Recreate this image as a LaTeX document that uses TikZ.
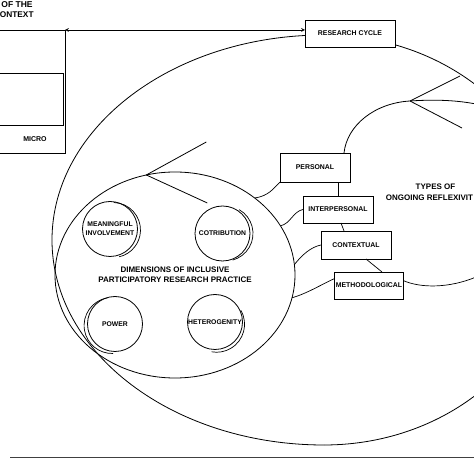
\documentclass[tikz,border=0pt]{standalone}
\usepackage{fontspec}
\setmainfont{Liberation Sans}
\usetikzlibrary{positioning,shapes.geometric}

\begin{document}
\begin{tikzpicture}[x=1pt,y=1pt,line width=0.8pt]
    \tikzstyle{box}=[draw, rectangle, minimum width=70pt, minimum height=27pt, inner sep=1pt, outer sep=0pt, fill=white, font=\bfseries\fontsize{6.9}{8}\selectfont]
    \tikzstyle{dim}=[draw, circle, minimum size=55pt, inner sep=0pt, outer sep=0pt, align=center, font=\bfseries\fontsize{6.8}{9}\selectfont]
    \tikzstyle{title}=[font=\bfseries\fontsize{8}{10}\selectfont, inner sep=0pt]
    \tikzstyle{link}=[line width=0.7pt]

    \useasboundingbox (0,0) rectangle (474,474);
    \clip (0,0) rectangle (474,474);

    % outer cycle
    \begin{scope}
        \clip (-20,-20) rectangle (324,500);
        \draw (324,234) ellipse [x radius=272pt, y radius=205pt];
    \end{scope}
    \begin{scope}
        \clip (324,-20) rectangle (500,500);
        \draw (324,234) ellipse [x radius=232pt, y radius=205pt];
    \end{scope}

    % levels of the context
    \node[draw, rectangle, minimum width=75pt, minimum height=123pt, outer sep=0pt] (levels) at (27.5,382.5) {};
    \node[draw, rectangle, minimum width=73pt, minimum height=52pt, outer sep=0pt] (meso) at (26.5,375) {};
    \node[font=\bfseries\fontsize{7}{8}\selectfont] (micro) at (35,335) {MICRO};
    \node[title, font=\bfseries\fontsize{8.5}{10}\selectfont, anchor=base east] (ctxa) at (33,466.5) {OF THE};
    \node[title, font=\bfseries\fontsize{8.3}{10}\selectfont, anchor=base east] (ctxb) at (34,456.5) {ONTEXT};

    \node[box, minimum width=90pt] (cycle) at (350,440.5) {RESEARCH CYCLE};
    \draw[stealth-stealth, link] (levels.north east) -- (levels.north east -| cycle.west);

    % dimensions
    \node[draw, ellipse, minimum width=240pt, minimum height=206pt, outer sep=0pt, align=center, title] (dims) at (175,199) {DIMENSIONS OF INCLUSIVE\\PARTICIPATORY RESEARCH PRACTICE};

    \node[dim] (meaning) at (110,245) {MEANINGFUL\\INVOLVEMENT};
    \node[dim] (contrib) at (222.5,240.5) {COTRIBUTION};
    \node[dim] (power) at (115,150) {POWER};
    \node[dim] (hetero) at (215,152) {HETEROGENITY};

    \draw[link] ([shift={(3,-1)}]meaning.88) arc[start angle=88, end angle=-77, radius=27.5pt];
    \draw[link] ([shift={(3,0)}]contrib.60) arc[start angle=60, end angle=-75, radius=27.5pt];
    \draw[link] ([shift={(-3,-1)}]power.100) arc[start angle=100, end angle=272, radius=28pt];
    \draw[link] ([shift={(2,-2)}]hetero.30) arc[start angle=30, end angle=-100, radius=28pt];

    \coordinate (dtip) at (dims.106);
    \draw (dtip) -- ++(60,33);
    \draw (dtip) -- ++(61,-28);

    % types of reflexivity
    \node[box, minimum height=29pt] (personal) at (315,306.5) {PERSONAL};
    \node[box] (inter) at (338,264.5) {INTERPERSONAL};
    \node[box, minimum height=28pt] (context) at (356,229) {CONTEXTUAL};
    \node[box, minimum width=68pt] (method) at (369,188.5) {METHODOLOGICAL};

    \draw[link] (dims.44) .. controls +(14,2) and +(-6,-6) .. (personal.south west);
    \draw[link] (dims.25) .. controls +(10,2) and +(-10,-2) .. (inter.west);
    \draw[link] (dims.5) .. controls +(8,10) and +(-10,-2) .. (context.west);
    \draw[link] (dims.-11) .. controls +(15,4) and +(-8,-3) .. ([yshift=7pt]method.west);

    \draw[link] (inter.north) -- (inter.north |- personal.south);
    \draw[link] ([xshift=3pt]inter.south) -- ([xshift=-12pt]context.north);
    \draw[link] ([xshift=10pt]context.south) -- ([xshift=13pt]method.north);

    \coordinate (rtip) at (410,373);
    \coordinate (redge) at (476,370);
    \coordinate (medge) at (476,197);
    \draw ([xshift=29pt]personal.north) .. controls +(3,28) and +(-35,-2) .. (rtip) .. controls +(30,2) and +(-16,3) .. (redge);
    \draw (rtip) -- ++(50,25);
    \draw (rtip) -- ++(52,-27);
    \draw[link] ([yshift=5pt]method.east) .. controls +(18,-8) and +(-26,-11) .. (medge);

    \node[title] (typesa) at (435.5,287) {TYPES OF};
    \node[title, anchor=east] (typesb) at (473.5,276) {ONGOING REFLEXIVIT};

    % base line
    \coordinate (floora) at (10,16);
    \coordinate (floorb) at (476,16);
    \draw[line width=1pt, black!75] (floora) -- (floorb);
\end{tikzpicture}
\end{document}
